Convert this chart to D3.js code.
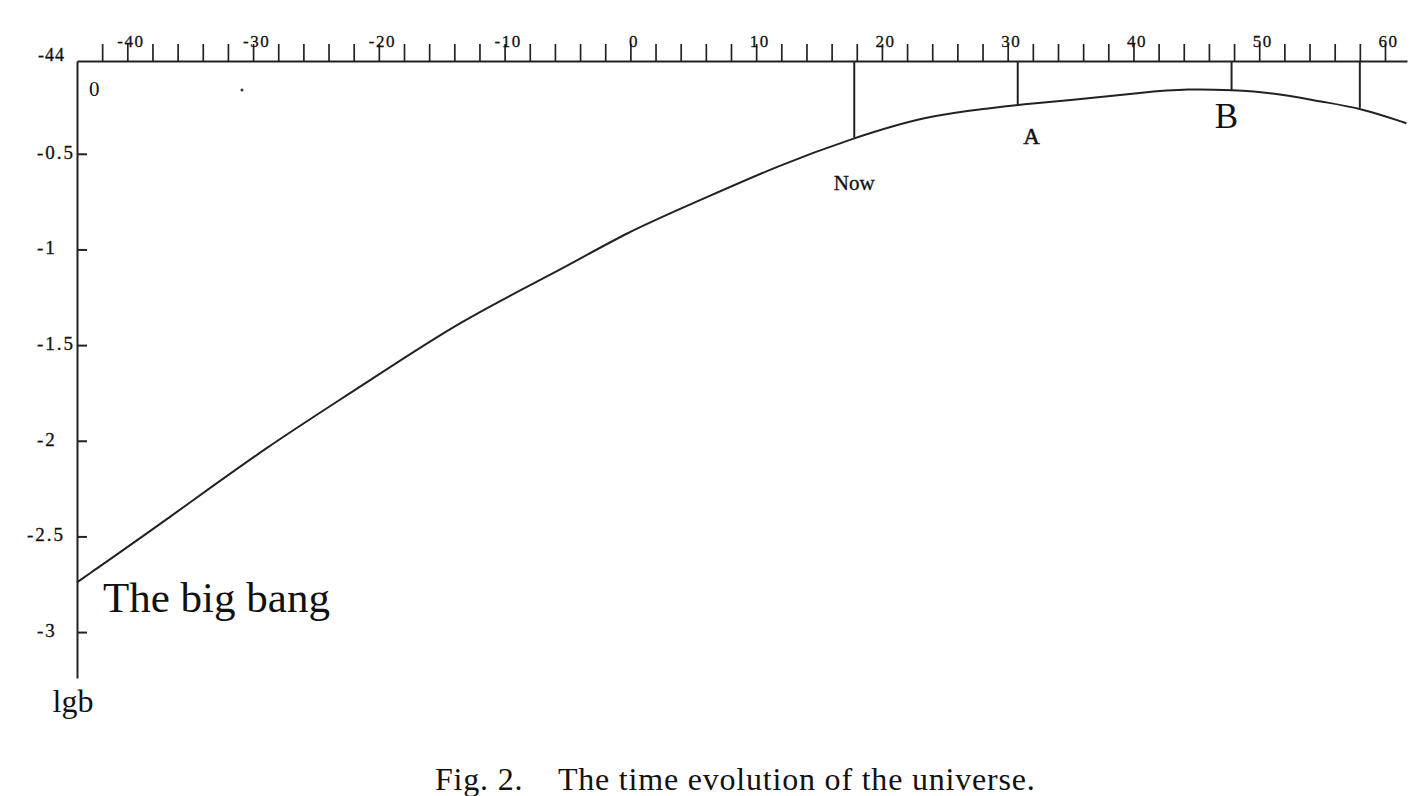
<!DOCTYPE html>
<html>
<head>
<meta charset="utf-8">
<script src="https://cdn.jsdelivr.net/npm/d3@7"></script>
<style>
  body { margin:0; background:#fff; }
  text { font-family:"Liberation Serif", serif; fill:#111; }
</style>
</head>
<body>
<div id="chart-area"></div>
<script>
// curve: time (x) vs lgb (y)
const timeVals = [-44, -36.6, -28.9, -21.5, -13.5, -5.6, -0.3, 5.3, 11.8, 17.6, 23.6, 28.8, 30.7, 36.5, 40.5, 44.5, 47.8, 51.1, 55.1, 58, 61.7];
const lgbVals  = [-2.74, -2.40, -2.03, -1.72, -1.37, -1.11, -0.91, -0.75, -0.56, -0.42, -0.30, -0.26, -0.245, -0.21, -0.18, -0.16, -0.167, -0.18, -0.23, -0.26, -0.34];

// vertical markers from the top axis down to the curve
const markerX = [17.8, 30.8, 47.8, 58];

const topTicks = d3.range(-42, 61, 2);
const yTicks = [-0.5, -1, -1.5, -2, -2.5, -3];
const yLabels = ["-0.5", "-1", "-1.5", "-2", "-2.5", "-3"];

const W = 1427, H = 796;

var svg = d3.select("#chart-area")
    .append("svg")
    .attr("width", W)
    .attr("height", H);

const x = d3.scaleLinear().domain([-44, 61.75]).range([77, 1407]);
const y = d3.scaleLinear().domain([-0.015, -3.24]).range([61, 678]);

const data = timeVals.map(function(t, i){ return { t: t, v: lgbVals[i] }; });

// top axis
var xAxisCall = d3.axisTop(x)
    .tickValues(topTicks)
    .tickSize(17)
    .tickSizeOuter(0)
    .tickPadding(-3)
    .tickFormat(function(d){ return d % 10 === 0 ? d : ""; });
const gx = svg.append("g")
    .attr("class", "x axis")
    .attr("transform", "translate(0," + y(-0.015) + ")")
    .call(xAxisCall);
gx.select(".domain").attr("stroke", "#222").attr("stroke-width", 2);
gx.selectAll(".tick line").attr("stroke", "#222").attr("stroke-width", 1.7);
gx.selectAll(".tick text")
    .attr("font-family", "Liberation Serif")
    .attr("font-size", "17px")
    .attr("letter-spacing", "1.5px")
    .attr("dx", "3")
    .attr("fill", "#111")
    .attr("stroke", "#111")
    .attr("stroke-width", 0.3);

svg.append("text")
    .attr("x", 38).attr("y", 61)
    .attr("font-size", "18px")
    .attr("letter-spacing", "1px")
    .attr("stroke", "#111").attr("stroke-width", 0.3)
    .text("-44");

// left axis, ticks pointing inward
var yAxisCall = d3.axisLeft(y)
    .tickValues(yTicks)
    .tickSize(-10)
    .tickSizeOuter(0)
    .tickFormat("");
const gy = svg.append("g")
    .attr("class", "y axis")
    .attr("transform", "translate(" + x(-44) + ",0)")
    .call(yAxisCall);
gy.select(".domain").attr("stroke", "#222").attr("stroke-width", 2);
gy.selectAll(".tick line").attr("stroke", "#222").attr("stroke-width", 2);

svg.selectAll(".ylab")
    .data(yTicks)
    .enter()
    .append("text")
    .attr("class", "ylab")
    .attr("x", function(d){ return d === -2.5 ? 27 : 37; })
    .attr("y", function(d){ return y(d) + 5; })
    .attr("font-size", "19px")
    .attr("letter-spacing", "2px")
    .attr("stroke", "#111").attr("stroke-width", 0.3)
    .text(function(d, i){ return yLabels[i]; });

// curve (smoothed through the read points)
const line = d3.line()
    .x(function(d){ return x(d.t); })
    .y(function(d){ return y(d.v); })
    .curve(d3.curveBasis);
svg.append("path")
    .datum(data)
    .attr("d", line)
    .attr("fill", "none")
    .attr("stroke", "#222")
    .attr("stroke-width", 2);

// markers
const interp = d3.scaleLinear().domain(timeVals).range(lgbVals);
svg.selectAll(".marker")
    .data(markerX)
    .enter()
    .append("line")
    .attr("class", "marker")
    .attr("x1", function(d){ return x(d); })
    .attr("x2", function(d){ return x(d); })
    .attr("y1", y(-0.015))
    .attr("y2", function(d){ return y(interp(d)); })
    .attr("stroke", "#222")
    .attr("stroke-width", 2);

// annotations
svg.append("text").attr("x", 89).attr("y", 96)
    .attr("font-size", "21px").text("0");
svg.append("circle").attr("cx", 242).attr("cy", 90).attr("r", 1.5).attr("fill", "#333");

svg.append("text").attr("x", x(17.8)).attr("y", 190)
    .attr("text-anchor", "middle").attr("font-size", "21px")
    .attr("stroke", "#111").attr("stroke-width", 0.3).text("Now");
svg.append("text").attr("x", x(31.9)).attr("y", 144)
    .attr("text-anchor", "middle").attr("font-size", "23px")
    .attr("stroke", "#111").attr("stroke-width", 0.5).text("A");
svg.append("text").attr("x", x(47.4)).attr("y", 128)
    .attr("text-anchor", "middle").attr("font-size", "35px").text("B");

svg.append("text").attr("x", 103).attr("y", 612)
    .attr("font-size", "43px").text("The big bang");

svg.append("text").attr("x", 73).attr("y", 712)
    .attr("text-anchor", "middle").attr("font-size", "32px").text("lgb");

svg.append("text").attr("x", 435).attr("y", 790)
    .attr("font-size", "32px")
    .attr("letter-spacing", "0.8px")
    .attr("xml:space", "preserve")
    .text("Fig. 2.    The time evolution of the universe.");
</script>
</body>
</html>
